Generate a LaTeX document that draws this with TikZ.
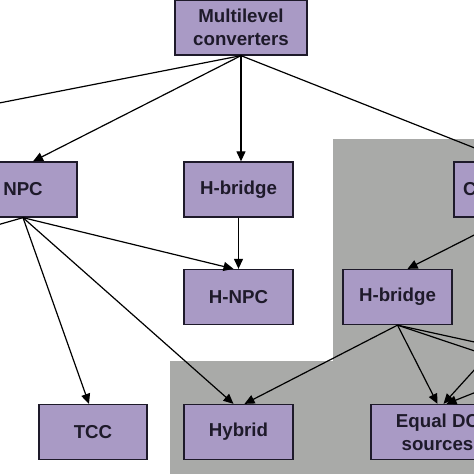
\documentclass[tikz,border=0pt]{standalone}
\usepackage{fontspec}
\setmainfont{Liberation Sans}
\usetikzlibrary{arrows.meta}
\definecolor{boxfill}{HTML}{A99AC5}
\definecolor{boxline}{HTML}{1E1A2A}
\definecolor{zone}{HTML}{A9AAA8}
\tikzset{
  cbox/.style={draw=boxline, line width=1.3pt, fill=boxfill, minimum width=109pt, minimum height=55pt,
    inner sep=0pt, align=center, font=\fontsize{18.7}{23}\selectfont\bfseries, text=boxline},
  link/.style={line width=1.2pt, -{Triangle[length=10pt,width=9pt]}}
}
\begin{document}
\begin{tikzpicture}[x=1pt,y=-1pt]
\useasboundingbox (0,0) rectangle (474,474);
\clip (0,0) rectangle (474,474);
% shaded zones
\fill[zone] (333,139) rectangle (480,480);
\fill[zone] (170,361) rectangle (334,480);
% nodes
\node[cbox, minimum width=132pt, minimum height=55pt] (top) at (241,27.5) {Multilevel\\converters};
\node[cbox, minimum width=108pt] (npc) at (23,189.5) {NPC};
\node[cbox] (hb1) at (238.5,189.5) {H-bridge};
\node[cbox, text width=91pt, inner xsep=9pt, align=left] (cc) at (508.5,189.5) {C};
\node[cbox] (hnpc) at (238.5,297) {H-NPC};
\node[cbox] (hb2) at (397.5,297) {H-bridge};
\node[cbox, minimum width=108pt] (tcc) at (93,432) {TCC};
\node[cbox] (hyb) at (238.5,432) {Hybrid};
\node[cbox, minimum width=133pt] (eqdc) at (437.5,432) {Equal DC\\sources};
% off-picture ends
\coordinate (l1) at (-302,162);
\coordinate (l2) at (-115,257);
\coordinate (r1) at (762,405);
\coordinate (r2) at (636,405);
\coordinate (s1) at (516,324);
\coordinate (s2) at (647,324);
% connectors
\draw[link] (top.south) -- (l1);
\draw[link] (top.south) -- ([xshift=10pt]npc.north);
\draw[link] (top.south) -- (top.south |- hb1.north);
\draw[link] (top.south) -- (cc.north);
\draw[link] (hb1.south) -- (hnpc.north);
\draw[link] (npc.south) -- ([xshift=-5pt]hnpc.north);
\draw[link] (npc.south) -- ([xshift=-4pt]tcc.north);
\draw[link] (npc.south) -- ([xshift=-5pt]hyb.north);
\draw[link] (npc.south) -- (l2);
\draw[link] (cc.south) -- ([xshift=10pt]hb2.north);
\draw[link] (hb2.south) -- ([xshift=6pt]hyb.north);
\draw[link] (hb2.south) -- (eqdc.north);
\draw[link] (hb2.south) -- (r1);
\draw[link] (hb2.south) -- (r2);
\draw[link] (s1) -- ([xshift=6pt]eqdc.north);
\draw[link] (s2) -- ([xshift=9pt]eqdc.north);
\end{tikzpicture}
\end{document}
